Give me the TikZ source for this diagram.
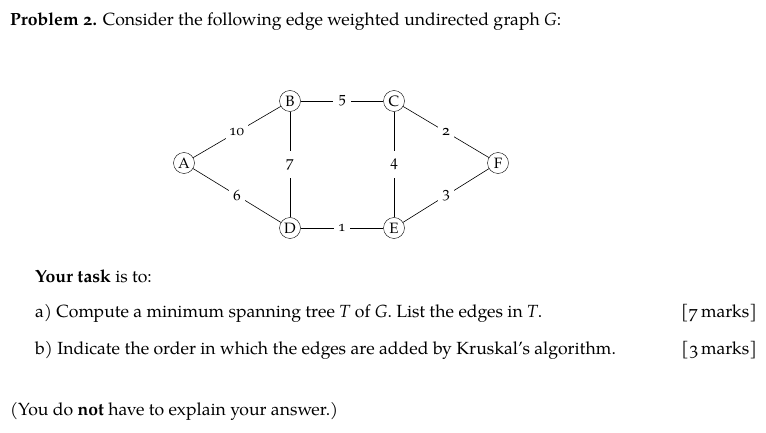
\documentclass[tikz,border=0pt]{standalone}
\usepackage{fontspec}
\setmainfont{TeX Gyre Pagella}[Numbers=OldStyle]
\begin{document}
\begin{tikzpicture}[x=1pt,y=-1pt,
  vert/.style={circle,draw,inner sep=0pt,minimum size=21pt,font=\fontsize{15}{15}\selectfont},
  wlab/.style={fill=white,inner sep=5pt,font=\fontsize{15}{15}\selectfont},
  txt/.style={anchor=west,inner sep=0pt,font=\fontsize{17.6}{19}\selectfont},
  edge/.style={line width=0.6pt}]
\useasboundingbox (0,0) rectangle (766,433);
\node[vert] (A) at (184,163) {A};
\node[vert] (B) at (290,101) {B};
\node[vert] (C) at (394,101) {C};
\node[vert] (D) at (290,228) {D};
\node[vert] (E) at (394,228) {E};
\node[vert] (F) at (498,163) {F};
\draw[edge] (A) -- node[wlab,inner sep=4pt]{10} (B);
\draw[edge] (A) -- node[wlab,inner sep=4pt]{6} (D);
\draw[edge] (B) -- node[wlab]{5} (C);
\draw[edge] (B) -- node[wlab,inner sep=8pt]{7} (D);
\draw[edge] (C) -- node[wlab,inner sep=8pt]{4} (E);
\draw[edge] (D) -- node[wlab]{1} (E);
\draw[edge] (C) -- node[wlab,inner sep=4pt]{2} (F);
\draw[edge] (E) -- node[wlab,inner sep=4pt]{3} (F);
\node[txt] (t1) at (10,22) {\textbf{Problem 2.} Consider the following edge weighted undirected graph \textit{G}:};
\node[txt] (t2) at (35,276) {\textbf{Your task} is to:};
\node[txt] (t3) at (35,313) {a) Compute a minimum spanning tree \textit{T} of \textit{G}. List the edges in \textit{T}.};
\node[txt] (t4) at (35,350) {b) Indicate the order in which the edges are added by Kruskal's algorithm.};
\node[txt,anchor=east] (m1) at (757,313) {[7\,marks]};
\node[txt,anchor=east] (m2) at (757,350) {[3\,marks]};
\node[txt] (t5) at (10,411) {(You do \textbf{not} have to explain your answer.)};
\end{tikzpicture}
\end{document}
